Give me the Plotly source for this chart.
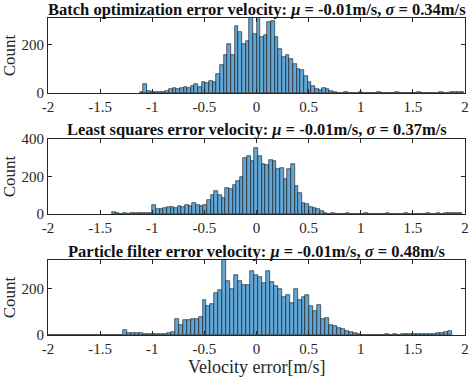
import plotly.graph_objects as go

# ---------------- data ----------------
titles = [
    "<b>Batch optimization error velocity: <i>μ</i> = -0.01m/s, <i>σ</i> = 0.34m/s</b>",
    "<b>Least squares error velocity: <i>μ</i> = -0.01m/s, <i>σ</i> = 0.37m/s</b>",
    "<b>Particle filter error velocity: <i>μ</i> = -0.01m/s, <i>σ</i> = 0.48m/s</b>",
]
x_label = "Velocity error[m/s]"
y_label = "Count"
x_ticks = [-2, -1.5, -1, -0.5, 0, 0.5, 1, 1.5, 2]
x_tick_text = ["-2", "-1.5", "-1", "-0.5", "0", "0.5", "1", "1.5", "2"]

# Batch optimization histogram
batch_start = -1.12
batch_width = 0.035
batch_counts = [
    3, 37, 10, 6, 5, 6, 4, 8, 18, 20, 17, 22, 25, 20, 28, 38, 25, 45, 40, 50,
    45, 78, 116, 160, 205, 160, 280, 255, 205, 215, 320, 245, 320, 235, 240, 295,
    300, 235, 185, 150, 160, 140, 120, 100, 95, 70, 45, 30, 15, 12, 20, 18, 8,
    3, 2, 2, 3, 1, 2, 2, 3, 2, 1, 2, 2, 3, 2, 2, 1, 2, 3, 2, 2, 1, 2, 2, 3, 2,
    2, 1, 2, 2, 3, 2, 2, 3, 4, 5, 4,
]

# Least squares histogram
ls_start = -1.385
ls_width = 0.035
ls_counts = [
    12, 3, 2, 3, 2, 4, 3, 4, 3, 4, 5, 48, 25, 28, 30, 35, 38, 32, 45, 40,
    48, 42, 60, 50, 45, 50, 76, 100, 124, 103, 88, 139, 132, 156, 174, 200,
    299, 308, 281, 350, 308, 267, 263, 290, 284, 240, 245, 185, 240, 265, 150,
    110, 60, 55, 35, 30, 28, 18,
    3, 2, 3, 2, 1, 2, 3, 2, 2, 1, 2, 3, 2, 2, 1, 2, 2, 3, 2, 2, 1, 2, 3, 2,
    2, 1, 2, 2, 3, 2, 2, 3, 2, 3, 4, 3, 4, 5,
]

# Particle filter histogram
pf_start = -2.0
pf_width = 0.038
pf_counts = [
    1, 1, 1, 1, 1, 1, 1, 1, 1, 1, 1, 1, 1, 1, 1, 0, 1, 0, 0, 22,
    10, 8, 9, 7, 6, 5, 5, 6, 4, 5, 8, 15, 70, 45, 65, 65, 70, 70, 80, 154,
    125, 135, 183, 197, 330, 233, 201, 260, 233, 219, 219, 280, 262, 251, 226,
    277, 230, 212, 200, 165, 175, 140, 200, 150, 165, 175, 125, 105, 130, 70,
    75, 45, 38, 30, 25, 17, 12, 8, 3,
    2, 1, 2, 2, 1, 2, 3, 2, 3, 2, 3, 4, 3, 4, 4, 5, 5, 4, 6, 8, 10, 12, 18,
]

y_ranges = [[0, 312], [0, 400], [0, 326]]
y_ticks = [[0, 200], [0, 200, 400], [0, 200]]

series = [
    (batch_start, batch_width, batch_counts),
    (ls_start, ls_width, ls_counts),
    (pf_start, pf_width, pf_counts),
]

# ---------------- figure ----------------
W, H = 474, 379
x_dom = [48 / W, 465 / W]
plot_px = [(18, 93), (139, 214), (260, 335)]
title_y_px = [9, 129, 251]

font_family = "Liberation Serif, Times New Roman, serif"
axis_color = "#262626"
bar_fill = "rgb(98,166,213)"

fig = go.Figure()
layout_axes = {}
annotations = []
for i, (start, width, counts) in enumerate(series):
    centers = [start + width * (k + 0.5) for k in range(len(counts))]
    xa = "x" if i == 0 else f"x{i+1}"
    ya = "y" if i == 0 else f"y{i+1}"
    fig.add_trace(go.Bar(
        x=centers, y=counts, width=width,
        xaxis=xa, yaxis=ya,
        marker=dict(color=bar_fill, line=dict(color="#111111", width=0.6)),
        showlegend=False, hoverinfo="x+y",
    ))
    top, bot = plot_px[i]
    ydom = [1 - bot / H, 1 - top / H]
    xkey = "xaxis" if i == 0 else f"xaxis{i+1}"
    ykey = "yaxis" if i == 0 else f"yaxis{i+1}"
    layout_axes[xkey] = dict(
        domain=x_dom, anchor=ya, range=[-2.0005, 2.0005],
        tickmode="array", tickvals=x_ticks, ticktext=x_tick_text,
        ticks="inside", ticklen=4, tickcolor=axis_color, tickwidth=1,
        showline=True, linecolor=axis_color, linewidth=1, mirror="allticks",
        showgrid=False, zeroline=False, automargin=False,
        tickfont=dict(family=font_family, size=15, color="#262626"),
        fixedrange=True,
    )
    layout_axes[ykey] = dict(
        domain=ydom, anchor=xa, range=y_ranges[i],
        tickmode="array", tickvals=y_ticks[i],
        ticks="inside", ticklen=4, tickcolor=axis_color, tickwidth=1,
        showline=True, linecolor=axis_color, linewidth=1, mirror="allticks",
        showgrid=False, zeroline=False, automargin=False,
        tickfont=dict(family=font_family, size=15, color="#262626"),
        title=dict(text=y_label, font=dict(family=font_family, size=17, color="#262626"), standoff=4),
        fixedrange=True,
    )
    annotations.append(dict(
        text=titles[i], xref="paper", yref="paper",
        x=(x_dom[0] + x_dom[1]) / 2, y=1 - title_y_px[i] / H,
        xanchor="center", yanchor="middle", showarrow=False,
        font=dict(family=font_family, size=16.5, color="#111111"),
    ))

annotations.append(dict(
    text=x_label, xref="paper", yref="paper",
    x=(x_dom[0] + x_dom[1]) / 2, y=1 - 367 / H,
    xanchor="center", yanchor="middle", showarrow=False,
    font=dict(family=font_family, size=18, color="#262626"),
))

fig.update_layout(
    width=W, height=H,
    margin=dict(l=0, r=0, t=0, b=0),
    paper_bgcolor="white", plot_bgcolor="white",
    bargap=0, barmode="overlay",
    annotations=annotations,
    **layout_axes,
)

fig.write_html(
    "out.html",
    config={"displayModeBar": False},
    post_script="document.body.style.margin='0';",
)
